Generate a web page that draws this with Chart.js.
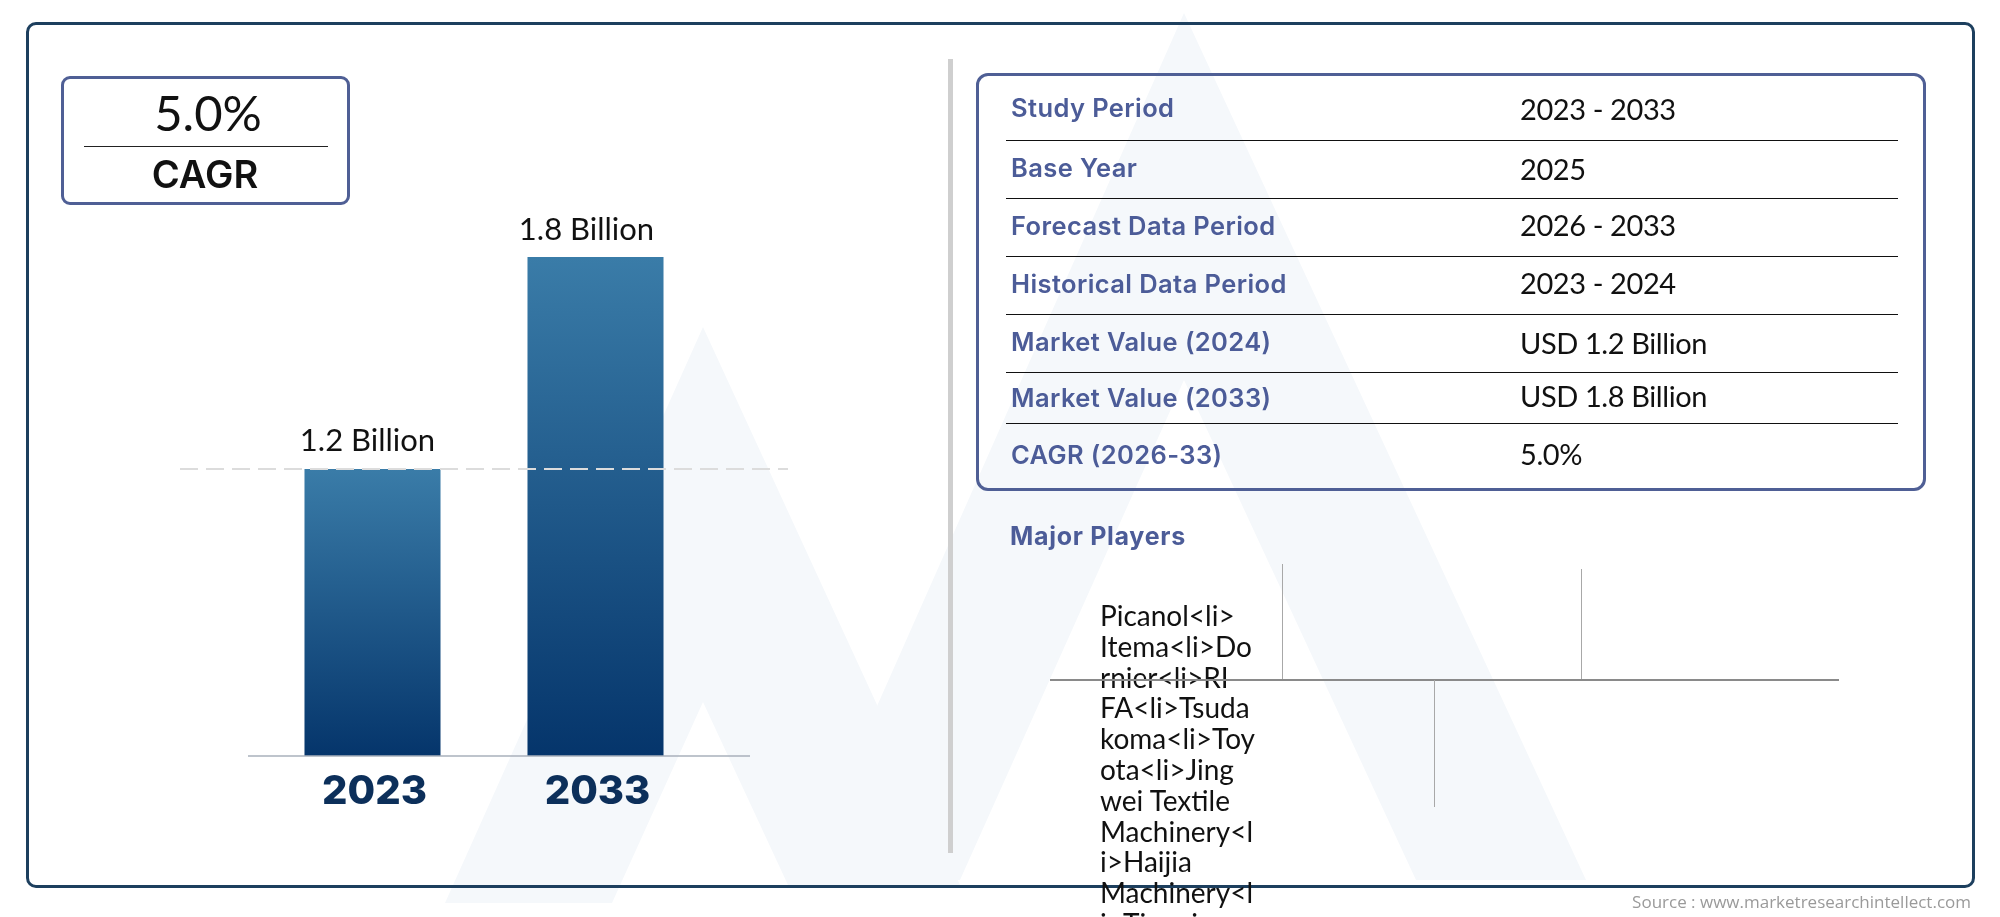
<!DOCTYPE html>
<html>
<head>
<meta charset="utf-8">
<script src="https://cdn.jsdelivr.net/npm/chart.js@4"></script>
<style>
html, body { margin: 0; padding: 0; width: 2000px; height: 917px; overflow: hidden; background: #fff; }
#page { position: relative; width: 2000px; height: 917px; overflow: hidden; }
#page > * { position: absolute; }
#mark { left: 0; top: 0; }
#frame { left: 26px; top: 22px; width: 1943px; height: 860px; border: 3px solid #1d3f5e; border-radius: 10px; }
#cagrBox { left: 61px; top: 76px; width: 289px; height: 129px; border: 3px solid #4f5f95; border-radius: 9px; box-sizing: border-box; }
#cagrRule { left: 84px; top: 146px; width: 244px; height: 1px; background: #222; }
#cagrValue { left: 62px; width: 292px; top: 83px; text-align: center; font: 400 49px Lato, sans-serif; color: #111; }
#cagrName { left: 62px; width: 286px; top: 151px; text-align: center; font: 600 38px Inter, sans-serif; color: #111; }
#divider { left: 948px; top: 59px; width: 5px; height: 794px; background: #cfcfcf; }
#tableBox { left: 976px; top: 73px; width: 950px; height: 418px; border: 3px solid #4f5f95; border-radius: 12px; box-sizing: border-box; }
.rowRule { left: 1006px; width: 892px; height: 1px; background: #111; }
.rowLabel { left: 1011px; font: 600 25.5px Inter, sans-serif; letter-spacing: 0.4px; color: #4c5c98; line-height: 30px; white-space: nowrap; }
.rowValue { left: 1520px; font: 400 29px Lato, sans-serif; letter-spacing: -0.4px; color: #111; line-height: 36px; white-space: nowrap; }
#playersHead { left: 1010px; top: 520px; font: 700 25px Inter, sans-serif; letter-spacing: 0.7px; color: #4c5c98; line-height: 32px; }
#players { left: 1100px; top: 600px; font: 400 28px/30.8px Lato, sans-serif; color: #111; white-space: pre; }
.hLine { background: #8a8a8a; }
.vLine { background: #a8a8a8; width: 1px; }
#source { right: 29px; top: 890px; font: 400 17px "Open Sans", sans-serif; color: #9a9a9a; white-space: nowrap; }
#chart { left: 0; top: 0; }
</style>
</head>
<body>
<div id="page">
  <svg id="mark" width="2000" height="917">
    <polygon fill="#f5f8fb" points="703,327 960,885 788,885 703,702 612,903 445,903"/>
    <polygon fill="#f5f8fb" points="1184,13 1586,880 1416,880 1184,380 960,880 800,880"/>
  </svg>
  <div id="frame"></div>
  <canvas id="chart" width="2000" height="917"></canvas>
  <div id="cagrBox"></div>
  <div id="cagrRule"></div>
  <div id="cagrValue"></div>
  <div id="cagrName"></div>
  <div id="divider"></div>
  <div id="tableBox"></div>
  <div id="playersHead"></div>
  <div id="players"></div>
  <div class="hLine" style="left:1050px;top:679px;width:789px;height:2px"></div>
  <div class="vLine" style="left:1282px;top:564px;height:115px"></div>
  <div class="vLine" style="left:1581px;top:569px;height:110px"></div>
  <div class="vLine" style="left:1434px;top:680px;height:127px"></div>
  <div id="source"></div>
</div>
<script>
var years = ["2023", "2033"];
var marketValues = [1.2, 1.8];
var valueLabels = ["1.2 Billion", "1.8 Billion"];
var cagrValue = "5.0%";
var cagrName = "CAGR";
var rowNames = ["Study Period", "Base Year", "Forecast Data Period", "Historical Data Period", "Market Value (2024)", "Market Value (2033)", "CAGR (2026-33)"];
var rowValues = ["2023 - 2033", "2025", "2026 - 2033", "2023 - 2024", "USD 1.2 Billion", "USD 1.8 Billion", "5.0%"];
var playerLines = ["Picanol<li>", "Itema<li>Do", "rnier<li>RI", "FA<li>Tsuda", "koma<li>Toy", "ota<li>Jing", "wei Textile", "Machinery<l", "i>Haijia", "Machinery<l", "i>Tianqi"];
var sourceText = "Source : www.marketresearchintellect.com";

// layout of the table and labels, kept apart from the data
var labelMiddles = [108, 168, 226, 284, 342, 398, 455];
var valueMiddles = [109, 169, 225, 283, 343, 396, 454];
var ruleTops = [140, 198, 256, 314, 372, 423];
var labelShift = [-5, -9];
var labelRise = [28, 27];

var page = document.getElementById("page");
document.getElementById("cagrValue").textContent = cagrValue;
document.getElementById("cagrName").textContent = cagrName;
document.getElementById("playersHead").textContent = "Major Players";
document.getElementById("players").textContent = playerLines.join("\n");
document.getElementById("source").textContent = sourceText;

for (var i = 0; i < rowNames.length; i++) {
    var a = document.createElement("div");
    a.className = "rowLabel";
    a.style.top = (labelMiddles[i] - 15) + "px";
    a.textContent = rowNames[i];
    page.appendChild(a);
    var b = document.createElement("div");
    b.className = "rowValue";
    b.style.top = (valueMiddles[i] - 18) + "px";
    b.textContent = rowValues[i];
    page.appendChild(b);
}
for (var j = 0; j < ruleTops.length; j++) {
    var r = document.createElement("div");
    r.className = "rowRule";
    r.style.top = ruleTops[j] + "px";
    page.appendChild(r);
}

function barFill(context) {
    var chart = context.chart;
    if (!chart.chartArea) return "#1d5a8c";
    var top = chart.scales.y.getPixelForValue(marketValues[context.dataIndex]);
    var g = chart.ctx.createLinearGradient(0, top, 0, chart.chartArea.bottom);
    g.addColorStop(0, "#3a7ca8");
    g.addColorStop(1, "#05356b");
    return g;
}

var extras = {
    id: "extras",
    afterDatasetsDraw: function (chart) {
        var ctx = chart.ctx;
        var area = chart.chartArea;
        var y = chart.scales.y;
        ctx.save();
        // baseline runs wider than the category band
        ctx.strokeStyle = "#a9b0bb";
        ctx.lineWidth = 1.5;
        ctx.beginPath();
        ctx.moveTo(area.left - 13, area.bottom);
        ctx.lineTo(area.right + 43, area.bottom);
        ctx.stroke();
        // dashed level of the first bar
        var level = y.getPixelForValue(marketValues[0]);
        ctx.strokeStyle = "#dcdcdc";
        ctx.lineWidth = 2;
        ctx.setLineDash([18, 8]);
        ctx.beginPath();
        ctx.moveTo(180, level);
        ctx.lineTo(788, level);
        ctx.stroke();
        ctx.setLineDash([]);
        // value labels
        ctx.fillStyle = "#111";
        ctx.font = "400 31px Lato, sans-serif";
        ctx.textAlign = "center";
        ctx.textBaseline = "middle";
        chart.getDatasetMeta(0).data.forEach(function (bar, k) {
            ctx.fillText(valueLabels[k], bar.x + labelShift[k], bar.y - labelRise[k]);
        });
        ctx.restore();
    }
};

new Chart(document.getElementById("chart").getContext("2d"), {
    type: "bar",
    data: {
        labels: years,
        datasets: [{
            label: "Market value",
            data: marketValues,
            backgroundColor: barFill,
            categoryPercentage: 1,
            barPercentage: 0.61
        }]
    },
    options: {
        responsive: false,
        animation: false,
        devicePixelRatio: 1,
        layout: { padding: { left: 261, right: 1293, top: 257, bottom: 101 } },
        plugins: { legend: { display: false }, tooltip: { enabled: false } },
        scales: {
            x: {
                afterFit: function (scale) { scale.height = 60; },
                grid: { display: false },
                border: { display: false },
                ticks: { color: "#0c2f5a", padding: 4, labelOffset: 2, font: { family: "Inter", size: 40, weight: "800" } }
            },
            y: { display: false, min: 0.388, max: 1.8 }
        }
    },
    plugins: [extras]
});
</script>
</body>
</html>
